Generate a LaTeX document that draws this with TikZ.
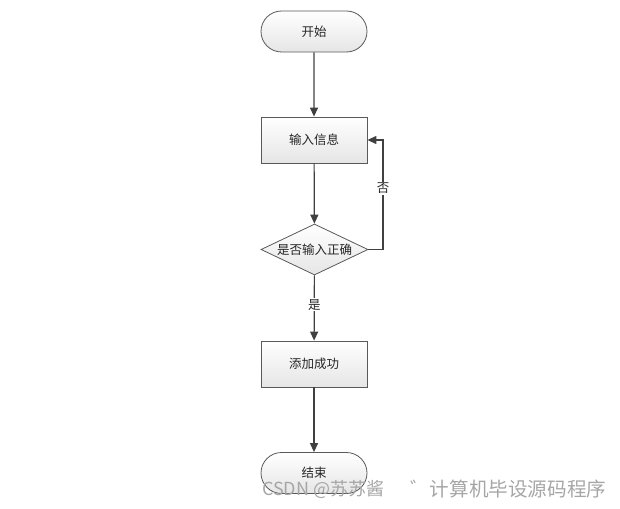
\documentclass[tikz,border=0pt]{standalone}
\usepackage{fontspec}
\setmainfont{Noto Sans CJK SC}
\usetikzlibrary{shapes.geometric,shapes.misc,arrows.meta}
\begin{document}
\begin{tikzpicture}[x=1pt,y=-1pt,
  base/.style={draw=black!65,line width=0.8pt,top color=white,bottom color=black!10,font=\fontsize{12.5}{14}\selectfont,text=black!85,inner sep=0pt},
  term/.style={base,rounded rectangle,minimum width=106pt,minimum height=41pt},
  proc/.style={base,rectangle,minimum width=106pt,minimum height=46pt},
  dec/.style={base,diamond,aspect=2.1,minimum width=107pt,minimum height=51pt},
  conn/.style={draw=black!75,line width=1.2pt,-{Triangle[length=9pt,width=8pt]}},
  lab/.style={font=\fontsize{12.5}{14}\selectfont,text=black!85,fill=white,inner sep=1pt},
  wmark/.style={text=black!35,anchor=west,inner sep=0pt}]
\useasboundingbox (0,0) rectangle (620,508);
\node[term] (start) at (314,31.5) {开始};
\node[proc] (input) at (314,140) {输入信息};
\node[dec] (check) at (314.5,249.5) {是否输入正确};
\node[proc] (add) at (314,364) {添加成功};
\node[term] (end) at (314,473) {结束};
\coordinate (c1) at (383,249.5);
\coordinate (c2) at (383,140);
\draw[conn] (start) -- (input);
\draw[conn] (input) -- (check);
\draw[conn] (check) -- node[lab,pos=0.45] {是} (add);
\draw[conn] (add) -- (end);
\draw[conn] (check.east) -- (c1) -- node[lab,pos=0.56] {否} (c2) -- (input.east);
\node[wmark,font=\fontsize{18}{20}\selectfont] (wm1) at (262,489) {CSDN @苏苏酱};
\node[wmark,font=\fontsize{19.6}{22}\selectfont] (wm2) at (410,489) {゛计算机毕设源码程序};
\end{tikzpicture}
\end{document}
